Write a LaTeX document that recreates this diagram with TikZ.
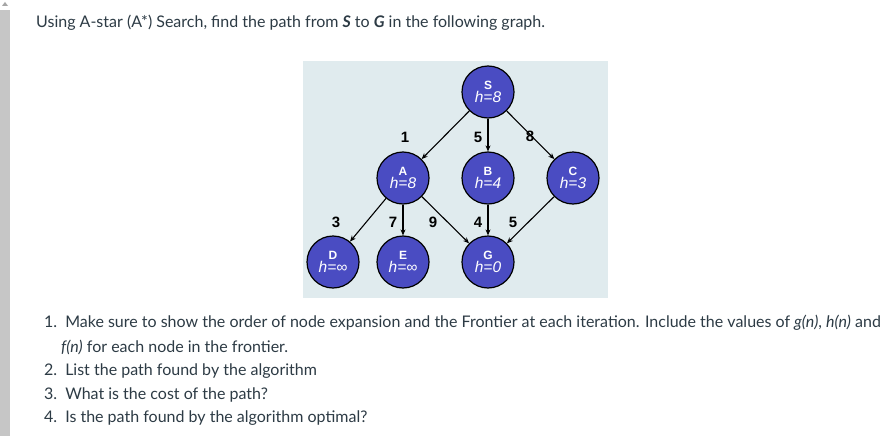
\documentclass[tikz,border=0pt]{standalone}
\usepackage{fontspec}
\setmainfont{Lato}
\setsansfont{Liberation Sans}
\usetikzlibrary{arrows.meta}
\definecolor{bgc}{HTML}{E0EBEE}
\definecolor{nodec}{HTML}{4A4CC2}
\definecolor{txt}{HTML}{2D3B45}
\tikzset{
 gn/.style={circle,draw=black,line width=1.2pt,fill=nodec,minimum size=52pt,inner sep=0pt,align=center,text=white,font=\sffamily\fontsize{15.5}{15}\selectfont},
 ed/.style={-{Stealth[length=6pt,width=5pt]},line width=1.1pt},
 wl/.style={font=\sffamily\bfseries\fontsize{15}{15}\selectfont,text=black},
 tx/.style={anchor=west,text=txt,font=\fontsize{16}{19}\selectfont,inner sep=0pt}
}
\begin{document}
\begin{tikzpicture}[x=1pt,y=-1pt]
\useasboundingbox (0,0) rectangle (880,436);
\fill[white] (0,0) rectangle (880,436);
\fill[gray!45] (0,10) rectangle (10,436);
\fill[gray!70] (2,6) -- (5,2) -- (8,6) -- cycle;
\node[tx] (title) at (36,23) {Using A-star (A*) Search, find the path from \textbf{\textit{S}} to \textbf{\textit{G}} in the following graph.};
\fill[bgc] (303,61) rectangle (608,298);
\node[gn] (S) at (488,92) {\textbf{\large S}\\[-2pt]\textit{h=8}};
\node[gn] (A) at (403,178) {\textbf{\large A}\\[-2pt]\textit{h=8}};
\node[gn] (B) at (488,178) {\textbf{\large B}\\[-2pt]\textit{h=4}};
\node[gn] (C) at (573,178) {\textbf{\large C}\\[-2pt]\textit{h=3}};
\node[gn] (D) at (333,262) {\textbf{\large D}\\[-2pt]\textit{h=∞}};
\node[gn] (E) at (403,262) {\textbf{\large E}\\[-2pt]\textit{h=∞}};
\node[gn] (G) at (488,262) {\textbf{\large G}\\[-2pt]\textit{h=0}};
\draw[ed] (S) -- (A);
\draw[ed] (S) -- (B);
\draw[ed] (S) -- (C);
\draw[ed] (A) -- (D);
\draw[ed] (A) -- (E);
\draw[ed] (A) -- (G);
\draw[ed] (B) -- (G);
\draw[ed] (C) -- (G);
\node[wl] (w1) at (405,137) {1};
\node[wl] (w5) at (478,137) {5};
\node[wl] (w8) at (530,136) {8};
\node[wl] (w3) at (336,222) {3};
\node[wl] (w7) at (393,222) {7};
\node[wl] (w9) at (433,222) {9};
\node[wl] (w4) at (478,222) {4};
\node[wl] (w5b) at (513,222) {5};
\node[tx] (l1) at (44,323) {1.\enspace Make sure to show the order of node expansion and the Frontier at each iteration. Include the values of \textit{g(n)}, \textit{h(n)} and};
\node[tx] (l1b) at (61,347) {\textit{f(n)} for each node in the frontier.};
\node[tx] (l2) at (44,371) {2.\enspace List the path found by the algorithm};
\node[tx] (l3) at (44,395) {3.\enspace What is the cost of the path?};
\node[tx] (l4) at (44,418) {4.\enspace Is the path found by the algorithm optimal?};
\end{tikzpicture}
\end{document}
